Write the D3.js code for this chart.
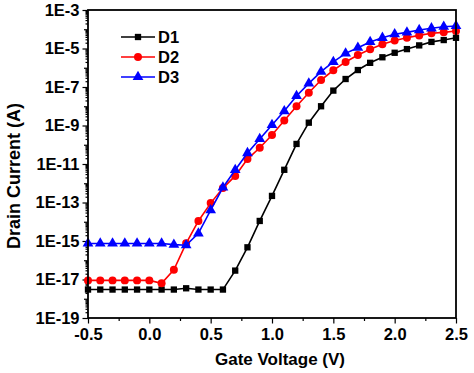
<!DOCTYPE html>
<html><head><meta charset="utf-8">
<script src="https://cdn.jsdelivr.net/npm/d3@7/dist/d3.min.js"></script>
<style>
body{margin:0;background:#fff;}
svg{display:block;font-family:"Liberation Sans",Arial,sans-serif;font-weight:bold;}
</style></head><body>
<svg id="c" width="474" height="373"></svg>
<script>
const gateVoltage = [-0.5,-0.4,-0.3,-0.2,-0.1,0.0,0.1,0.2,0.3,0.4,0.5,0.6,0.7,0.8,0.9,1.0,1.1,1.2,1.3,1.4,1.5,1.6,1.7,1.8,1.9,2.0,2.1,2.2,2.3,2.4,2.5];
const d1 = [3e-18,3e-18,3e-18,3e-18,3e-18,3e-18,3e-18,3e-18,3.5e-18,3e-18,3e-18,3e-18,2.9e-17,4.7e-16,1.1e-14,2.2e-13,5e-12,1.1e-10,1.4e-9,1.0e-8,6.5e-8,2.6e-7,7.6e-7,1.8e-6,3.5e-6,6.0e-6,9.3e-6,1.45e-5,2.2e-5,2.75e-5,3.6e-5];
const d2 = [9e-18,9e-18,9e-18,9e-18,9e-18,9e-18,6.3e-18,3.2e-17,7.6e-16,1.1e-14,9.3e-14,5.6e-13,2.4e-12,1.8e-11,7e-11,3.2e-10,1.8e-9,1.0e-8,5e-8,2.3e-7,7.4e-7,2.0e-6,4.6e-6,9.1e-6,1.66e-5,2.6e-5,3.6e-5,4.8e-5,6.2e-5,6.9e-5,8.1e-5];
const d3v = [7.4e-16,7.4e-16,7.4e-16,7.4e-16,7.4e-16,7.4e-16,7.4e-16,6.5e-16,6e-16,2.5e-15,4e-14,6e-13,4.9e-12,3.7e-11,2e-10,1.07e-9,5.6e-9,3.4e-8,1.55e-7,6.3e-7,2.0e-6,5.6e-6,1.1e-5,2.2e-5,3.6e-5,5.5e-5,6.9e-5,9.1e-5,1.12e-4,1.35e-4,1.48e-4];
const seriesNames = ["D1","D2","D3"];
const seriesColors = ["#000000","#ff0000","#0000ff"];
const seriesShapes = ["square","circle","triangle"];
const xTicks = [-0.5,0.0,0.5,1.0,1.5,2.0,2.5];
const xTickLabels = ["-0.5","0.0","0.5","1.0","1.5","2.0","2.5"];
const yTicks = [1e-3,1e-5,1e-7,1e-9,1e-11,1e-13,1e-15,1e-17,1e-19];
const yTickLabels = ["1E-3","1E-5","1E-7","1E-9","1E-11","1E-13","1E-15","1E-17","1E-19"];
const xTitle = "Gate Voltage (V)";
const yTitle = "Drain Current (A)";

const L=88,R=456,T=10,B=318;
const svg=d3.select("#c");
const x=d3.scaleLinear().domain([-0.5,2.5]).range([L,R]);
const y=d3.scaleLog().domain([1e-19,1e-3]).range([B,T]);

const decades=[];for(let e=-19;e<=-3;e++)decades.push(Math.pow(10,e));
const decadeMinor=decades.filter(v=>!yTicks.some(t=>Math.abs(Math.log10(t)-Math.log10(v))<1e-6));
const minorY=[];decades.forEach(dv=>{if(dv<1e-3){for(let k=2;k<=9;k++)minorY.push(dv*k);}});

const gy=svg.append("g").attr("transform",`translate(${L},0)`);
gy.append("g").call(d3.axisLeft(y).tickValues(minorY).tickSize(2.5).tickFormat(""));
gy.append("g").call(d3.axisLeft(y).tickValues(decadeMinor).tickSize(4).tickFormat(""));
gy.append("g").call(d3.axisLeft(y).tickValues(yTicks).tickSize(5.5).tickPadding(3)
  .tickFormat((d,i)=>yTickLabels[i]));
gy.selectAll(".domain").remove();
gy.selectAll("line").attr("stroke","#000").attr("stroke-width",1.2);
gy.selectAll("text").attr("font-size",16.5).attr("font-weight","bold").attr("fill","#000")
  .attr("font-family","'Liberation Sans',Arial,sans-serif");

const xMinor=[-0.25,0.25,0.75,1.25,1.75,2.25];
const gx=svg.append("g").attr("transform",`translate(0,${B})`);
gx.append("g").call(d3.axisBottom(x).tickValues(xMinor).tickSize(3).tickFormat(""));
gx.append("g").call(d3.axisBottom(x).tickValues(xTicks).tickSize(5.5).tickPadding(5)
  .tickFormat((d,i)=>xTickLabels[i]));
gx.selectAll(".domain").remove();
gx.selectAll("line").attr("stroke","#000").attr("stroke-width",1.2);
gx.selectAll("text").attr("font-size",16.5).attr("font-weight","bold").attr("fill","#000")
  .attr("font-family","'Liberation Sans',Arial,sans-serif");

const allData=[d1,d2,d3v];
const line=d3.line().x((d,i)=>x(gateVoltage[i])).y(d=>y(d));
const sym={square:d3.symbolSquare,circle:d3.symbolCircle,triangle:d3.symbolTriangle};
const symSize={square:40,circle:50,triangle:50};
function drawMarker(g,shape,color,cx,cy){
  g.append("path").attr("d",d3.symbol().type(sym[shape]).size(symSize[shape])())
   .attr("transform",`translate(${cx},${cy})`).attr("fill",color).attr("stroke","none");
}
allData.forEach((data,si)=>{
  const g=svg.append("g");
  g.append("path").datum(data).attr("d",line).attr("fill","none")
   .attr("stroke",seriesColors[si]).attr("stroke-width",1.6);
  data.forEach((v,i)=>drawMarker(g,seriesShapes[si],seriesColors[si],x(gateVoltage[i]),y(v)));
});

svg.append("rect").attr("x",L).attr("y",T).attr("width",R-L).attr("height",B-T)
  .attr("fill","none").attr("stroke","#000").attr("stroke-width",1.8);

seriesNames.forEach((n,i)=>{
  const ly=37+i*20;
  const g=svg.append("g");
  g.append("line").attr("x1",121).attr("x2",155).attr("y1",ly).attr("y2",ly)
   .attr("stroke",seriesColors[i]).attr("stroke-width",1.6);
  drawMarker(g,seriesShapes[i],seriesColors[i],138,ly);
  g.append("text").attr("x",158).attr("y",ly+6).attr("font-size",16.5).attr("font-weight","bold")
   .attr("fill","#000").text(n);
});

svg.append("text").attr("x",280).attr("y",365).attr("text-anchor","middle")
  .attr("font-size",17).attr("font-weight","bold").text(xTitle);
svg.append("text").attr("transform",`translate(20,${176}) rotate(-90)`).attr("text-anchor","middle")
  .attr("font-size",18).attr("font-weight","bold").text(yTitle);
</script>
</body></html>
